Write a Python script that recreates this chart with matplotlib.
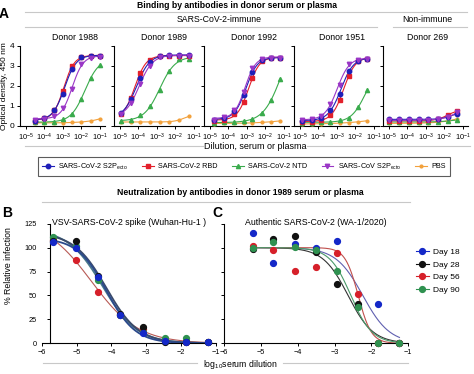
import numpy as np
import matplotlib
matplotlib.use("Agg")
import matplotlib.pyplot as plt
from matplotlib.lines import Line2D
from matplotlib.ticker import NullLocator

plt.rcParams["font.family"] = ["Liberation Sans", "DejaVu Sans"]
plt.rcParams["mathtext.fontset"] = "custom"
plt.rcParams["mathtext.rm"] = "Liberation Sans"
plt.rcParams["mathtext.it"] = "Liberation Sans:italic"
plt.rcParams["mathtext.bf"] = "Liberation Sans:bold"

W, H = 474, 374

# ---- panel A: ELISA binding, log10 dilution vs OD450 ----
donors = ["Donor 1988", "Donor 1989", "Donor 1992", "Donor 1951", "Donor 269"]
antigens = ["SARS-CoV-2 S2P$_{\\mathregular{ecto}}$", "SARS-CoV-2 RBD", "SARS-CoV-2 NTD",
            "SARS-CoV S2P$_{\\mathregular{ecto}}$", "PBS"]

logdil_1988 = [-4.5, -4.0, -3.5, -3.0, -2.5, -2.0, -1.5, -1.0]
logdil_1989 = [-4.95, -4.42, -3.9, -3.37, -2.85, -2.32, -1.8, -1.27]
logdil_1992 = [-4.77, -4.23, -3.68, -3.16, -2.7, -2.2, -1.7, -1.2]
logdil_1951 = [-4.9, -4.36, -3.85, -3.36, -2.86, -2.35, -1.84, -1.35]
logdil_269 = [-5.0, -4.46, -3.92, -3.38, -2.88, -2.34, -1.82, -1.32]

# order: S2P, RBD, NTD, SARS-CoV S2P, PBS
od_1988 = [[0.27, 0.42, 0.80, 1.60, 2.85, 3.42, 3.48, 3.48],
           [0.25, 0.40, 0.78, 1.75, 3.00, 3.45, 3.48, 3.48],
           [0.18, 0.20, 0.22, 0.35, 0.62, 1.35, 2.40, 3.02],
           [0.30, 0.35, 0.52, 0.90, 1.85, 3.10, 3.40, 3.42],
           [0.15, 0.15, 0.16, 0.17, 0.18, 0.20, 0.25, 0.36]]
od_1989 = [[0.66, 1.33, 2.40, 3.20, 3.50, 3.52, 3.52, 3.52],
           [0.62, 1.38, 2.65, 3.30, 3.50, 3.50, 3.50, 3.50],
           [0.25, 0.30, 0.55, 1.00, 1.80, 2.75, 3.32, 3.32],
           [0.62, 1.15, 2.10, 3.00, 3.45, 3.50, 3.50, 3.50],
           [0.20, 0.20, 0.20, 0.20, 0.20, 0.22, 0.30, 0.48]]
od_1992 = [[0.30, 0.40, 0.76, 1.55, 2.70, 3.29, 3.37, 3.37],
           [0.25, 0.32, 0.60, 1.22, 2.37, 3.25, 3.37, 3.37],
           [0.17, 0.18, 0.20, 0.24, 0.34, 0.66, 1.28, 2.35],
           [0.32, 0.44, 0.82, 1.70, 2.90, 3.35, 3.40, 3.40],
           [0.12, 0.13, 0.14, 0.15, 0.16, 0.18, 0.20, 0.26]]
od_1951 = [[0.25, 0.28, 0.42, 0.80, 1.60, 2.75, 3.25, 3.33],
           [0.20, 0.22, 0.30, 0.55, 1.30, 2.50, 3.25, 3.33],
           [0.15, 0.17, 0.20, 0.22, 0.30, 0.40, 0.96, 1.79],
           [0.30, 0.35, 0.52, 1.10, 2.05, 3.10, 3.30, 3.33],
           [0.10, 0.10, 0.12, 0.13, 0.15, 0.17, 0.20, 0.27]]
od_269 = [[0.33, 0.33, 0.33, 0.33, 0.34, 0.36, 0.46, 0.60],
          [0.25, 0.25, 0.26, 0.27, 0.30, 0.34, 0.55, 0.73],
          [0.20, 0.20, 0.20, 0.20, 0.20, 0.22, 0.25, 0.30],
          [0.28, 0.28, 0.28, 0.28, 0.30, 0.35, 0.45, 0.68],
          [0.13, 0.13, 0.14, 0.14, 0.15, 0.20, 0.25, 0.36]]

logdils = [logdil_1988, logdil_1989, logdil_1992, logdil_1951, logdil_269]
od_sets = [od_1988, od_1989, od_1992, od_1951, od_269]

# ---- panels B and C: neutralization, donor 1989 ----
days = ["Day 18", "Day 28", "Day 56", "Day 90"]
logdil_vsv = [-5.67, -5.02, -4.38, -3.74, -3.1, -2.46, -1.86, -1.22]
vsv_d18 = [106, 100, 69.6, 29.6, 10.4, 2.4, 1.7, 1.7]
vsv_d28 = [107, 107, 70.7, 30.6, 17.4, 1.7, 1.7, 1.7]
vsv_d56 = [108, 87, 53.3, 29.6, 15, 3.5, 1.7, 1.7]
vsv_d90 = [110.7, 102, 66, 29.6, 12, 5.2, 5.9, 1.7]

logdil_auth = [-5.22, -4.66, -4.07, -3.5, -2.94, -2.37, -1.81, -1.24]
auth_d18 = [115.7, 83.6, 103.5, 99.3, 107.3, 39, 40.8, 0]
auth_d28 = [98.6, 109, 112, 95.8, 62, 41, 0.7, 0]
auth_d56 = [102, 97.6, 76, 80, 94, 51.2, 0.7, 0]
auth_d90 = [100, 105.6, 101, 98, 75.6, 38, 0.5, 0]


def px(x):
    return x / W


def py(y):
    return 1 - y / H


def fit_4pl(x, y, left=None, right=None, hmax=3.0):
    # least-squares logistic fit of the read points;
    # left/right are the asymptotes at low/high x and may be fixed
    x = np.asarray(x, float)
    y = np.asarray(y, float)
    cs = np.linspace(x.min() - 1, x.max() + 1, 241)
    best = None
    for h in np.geomspace(0.4, hmax, 60):
        s = 1 / (1 + 10 ** (h * (cs[:, None] - x[None, :])))
        a0, a1 = 1 - s, s
        n = len(cs)
        with np.errstate(all="ignore"):
            if left is not None and right is not None:
                lv = np.full(n, left, float)
                rv = np.full(n, right, float)
            elif right is not None:
                rv = np.full(n, right, float)
                lv = (a0 * (y - right * a1)).sum(1) / (a0 * a0).sum(1)
            elif left is not None:
                lv = np.full(n, left, float)
                rv = (a1 * (y - left * a0)).sum(1) / (a1 * a1).sum(1)
            else:
                m00, m01, m11 = (a0 * a0).sum(1), (a0 * a1).sum(1), (a1 * a1).sum(1)
                r0, r1 = (a0 * y).sum(1), (a1 * y).sum(1)
                det = m00 * m11 - m01 ** 2
                lv = (m11 * r0 - m01 * r1) / det
                rv = (m00 * r1 - m01 * r0) / det
                lv[np.abs(det) < 1e-6] = np.nan
            sse = ((lv[:, None] * a0 + rv[:, None] * a1 - y) ** 2).sum(1)
        sse[~np.isfinite(sse)] = np.inf
        i = np.argmin(sse)
        if best is None or sse[i] < best[0]:
            best = (sse[i], lv[i], rv[i], cs[i], h)
    _, lv, rv, c, h = best
    xs = np.linspace(x.min(), x.max(), 200)
    return xs, lv + (rv - lv) / (1 + 10 ** (h * (c - xs)))


def style_axis(ax):
    for s in ["top", "right"]:
        ax.spines[s].set_visible(False)
    for s in ["left", "bottom"]:
        ax.spines[s].set_linewidth(0.8)
    ax.tick_params(direction="out", length=2.5, width=0.7, labelsize=5.3, pad=1.5)


fig = plt.figure(figsize=(W / 100, H / 100), dpi=100)

a_lefts = [19.5, 113.5, 203.5, 293.5, 382.5]
a_title_x = [74.5, 164, 254, 342, 428]
a_colors = ["#1f1fb8", "#e3202b", "#3aab4c", "#9a36c6", "#f2a13c"]
a_markers = ["o", "s", "^", "v", "o"]
a_msize = [3.2, 3.0, 3.0, 3.2, 2.0]
draw_order = [4, 2, 1, 0, 3]

for k in range(5):
    ax = fig.add_axes([px(a_lefts[k]), py(126), px(85), 80.3 / H])
    xlog = logdils[k]
    for j in draw_order:
        ys = od_sets[k][j]
        xs, fit = fit_4pl(xlog, ys)
        ax.plot(10 ** xs, fit, color=a_colors[j], lw=0.8, zorder=2)
        ax.plot(10 ** np.array(xlog), ys, ls="none", marker=a_markers[j], ms=a_msize[j],
                color=a_colors[j], mec=a_colors[j], clip_on=False, zorder=3)
    ax.set_xscale("log")
    ax.set_xlim(10 ** -5.35, 10 ** -0.75)
    ax.set_xticks([1e-5, 1e-4, 1e-3, 1e-2, 1e-1])
    ax.xaxis.set_minor_locator(NullLocator())
    ax.set_ylim(0, 4)
    ax.set_yticks([0, 1, 2, 3, 4])
    style_axis(ax)
    if k > 0:
        ax.set_yticklabels([])
    else:
        ax.tick_params(axis="y", labelsize=6)
    fig.text(px(a_title_x[k]), py(38), donors[k], ha="center", va="center", fontsize=6.3)

fig.text(px(5), py(86), "Optical density, 450 nm", rotation=90, ha="center", va="center", fontsize=6)

# headers
grey = "#c8c8c8"
fig.text(px(3.5), py(14), "A", fontsize=10, fontweight="bold", ha="center", va="center")
fig.text(px(237), py(5), "Binding by antibodies in donor serum or plasma", fontsize=6.2,
         fontweight="bold", ha="center", va="center")
fig.add_artist(Line2D([px(25), px(467)], [py(11.7), py(11.7)], color=grey, lw=0.8))
fig.text(px(219), py(19.5), "SARS-CoV-2-immune", fontsize=6.3, ha="center", va="center")
fig.text(px(427), py(19.5), "Non-immune", fontsize=6.3, ha="center", va="center")
fig.add_artist(Line2D([px(25), px(377)], [py(26.7), py(26.7)], color=grey, lw=0.8))
fig.add_artist(Line2D([px(393), px(467)], [py(26.7), py(26.7)], color=grey, lw=0.8))
fig.text(px(255), py(146.5), "Dilution, serum or plasma", fontsize=6.5, ha="center", va="center")
fig.add_artist(Line2D([px(25), px(203)], [py(146), py(146)], color=grey, lw=0.8))
fig.add_artist(Line2D([px(307), px(470)], [py(146), py(146)], color=grey, lw=0.8))

a_handles = [Line2D([], [], color=a_colors[j], marker=a_markers[j], ms=a_msize[j], lw=0.8)
             for j in range(5)]
leg = fig.legend(a_handles, antigens, loc="center", bbox_to_anchor=(px(244), py(166.5)),
                 ncol=5, fontsize=5.2, frameon=True, fancybox=False, handlelength=1.6,
                 columnspacing=2.0, handletextpad=0.6, borderpad=0.55)
leg.get_frame().set_edgecolor("#333333")
leg.get_frame().set_linewidth(0.8)

# ---- B and C ----
fig.text(px(240), py(192.7), "Neutralization by antibodies in donor 1989 serum or plasma",
         fontsize=6.2, fontweight="bold", ha="center", va="center")
fig.add_artist(Line2D([px(42), px(410)], [py(201.7), py(201.7)], color=grey, lw=0.8))
fig.text(px(7.5), py(212.7), "B", fontsize=10, fontweight="bold", ha="center", va="center")
fig.text(px(217.5), py(213), "C", fontsize=10, fontweight="bold", ha="center", va="center")

day_colors = ["#1428c8", "#111111", "#d6202a", "#2f9150"]
vsv_curve_colors = ["#2c4a8c", "#3a4a6a", "#b85a55", "#4a7a8a"]
auth_curve_colors = ["#6060b0", "#333333", "#c0504d", "#4a9a6a"]
vsv_sets = [vsv_d18, vsv_d28, vsv_d56, vsv_d90]
auth_sets = [auth_d18, auth_d28, auth_d56, auth_d90]

axb = fig.add_axes([px(41.7), py(343.3), px(174.3), 119.6 / H])
for j in [2, 3, 1, 0]:
    xs, fit = fit_4pl(logdil_vsv, vsv_sets[j], right=0)
    axb.plot(xs, fit, color=vsv_curve_colors[j], lw=1.3 if j != 2 else 0.8, zorder=2)
for j in [2, 3, 1, 0]:
    axb.plot(logdil_vsv, vsv_sets[j], ls="none", marker="o", ms=4.2, color=day_colors[j],
             mec=day_colors[j], clip_on=False, zorder=3)
axb.set_xlim(-6, -1)
axb.set_ylim(0, 125)
axb.set_xticks([-6, -5, -4, -3, -2, -1])
axb.set_yticks([0, 25, 50, 75, 100, 125])
style_axis(axb)
axb.spines["left"].set_position(("data", -5.76))
axb.tick_params(axis="y", pad=7)
axb.set_title("VSV-SARS-CoV-2 spike (Wuhan-Hu-1 )", fontsize=6.3, pad=0, y=0.985)

axc = fig.add_axes([px(223.8), py(343.3), px(184.5), 119.6 / H])
for j in [0, 1, 2, 3]:
    xs, fit = fit_4pl(logdil_auth, auth_sets[j], left=100, right=0)
    axc.plot(xs, fit, color=auth_curve_colors[j], lw=0.8, zorder=2)
for j in [0, 1, 2, 3]:
    axc.plot(logdil_auth, auth_sets[j], ls="none", marker="o", ms=4.2, color=day_colors[j],
             mec=day_colors[j], clip_on=False, zorder=3)
axc.set_xlim(-6, -1)
axc.set_ylim(0, 125)
axc.set_xticks([-6, -5, -4, -3, -2, -1])
axc.set_yticks([0, 25, 50, 75, 100, 125])
style_axis(axc)
axc.set_yticklabels([])
axc.set_title("Authentic SARS-CoV-2 (WA-1/2020)", fontsize=6.3, pad=0, y=0.985)

c_handles = [Line2D([], [], color=day_colors[j], marker="o", ms=4.2, lw=0.8) for j in range(4)]
fig.legend(c_handles, days, loc="upper left", bbox_to_anchor=(px(408), py(241)), frameon=False,
           fontsize=6, handlelength=1.6, handletextpad=0.5, labelspacing=0.55)

fig.text(px(8.5), py(266), "% Relative infection", rotation=90, ha="center", va="center", fontsize=6.3)
fig.text(px(240), py(364.5), "log$_{10}$serum dilution", ha="center", va="center", fontsize=6.3)
fig.add_artist(Line2D([px(43), px(197)], [py(363), py(363)], color=grey, lw=0.8))
fig.add_artist(Line2D([px(283), px(408)], [py(363), py(363)], color=grey, lw=0.8))

fig.savefig("out.png", dpi=100)
